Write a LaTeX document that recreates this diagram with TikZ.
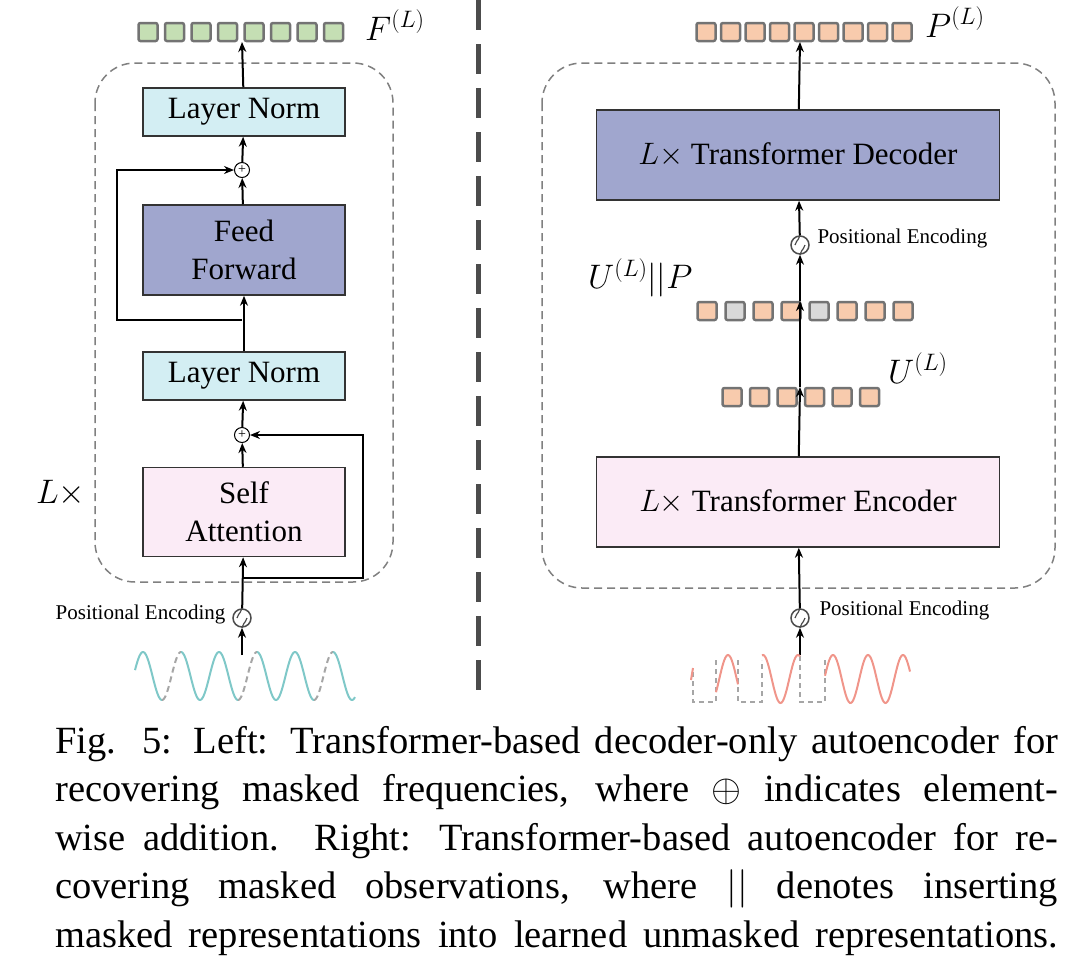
\documentclass[tikz,border=0pt]{standalone}
\usepackage{fix-cm}
\usepackage{fontspec}
\setmainfont{Liberation Serif}
\usetikzlibrary{arrows.meta,calc}
\definecolor{lncol}{HTML}{D3EEF3}
\definecolor{ffcol}{HTML}{A0A6CE}
\definecolor{sacol}{HTML}{FBEBF6}
\definecolor{grn}{HTML}{C5DFB4}
\definecolor{org}{HTML}{F8CBAD}
\definecolor{gry}{HTML}{D9D9D9}
\definecolor{teal}{HTML}{7FC8C8}
\definecolor{salm}{HTML}{F0958A}
\tikzset{
 blk/.style={draw=black!80,line width=1.5pt,minimum width=202pt,align=center,font=\fontsize{31}{36}\selectfont,inner sep=0pt},
 arr/.style={-{Stealth[length=10pt,width=8pt]},line width=2pt},
 tok/.style={draw=black!55,line width=2.5pt,rounded corners=2pt,minimum width=19pt,minimum height=18pt,inner sep=0pt},
 plus/.style={circle,draw,line width=1pt,minimum size=15pt,inner sep=0pt,font=\fontsize{14}{14}\selectfont},
 pe/.style={circle,draw=black!70,line width=1.5pt,minimum size=18pt,inner sep=0pt},
 pel/.style={font=\fontsize{21}{24}\selectfont},
 dbox/.style={draw=black!50,line width=1.5pt,dash pattern=on 8pt off 5pt,rounded corners=40pt},
 lbl/.style={font=\fontsize{34}{34}\selectfont,inner sep=0pt}
}
\newcommand{\pesym}[1]{\draw[black!70,line width=1.2pt] ($(#1)+(-5,0)$) .. controls ($(#1)+(-3,-6)$) and ($(#1)+(0,-6)$) .. (#1) .. controls ($(#1)+(0,6)$) and ($(#1)+(3,6)$) .. ($(#1)+(5,0)$);}
\begin{document}
\begin{tikzpicture}[x=1pt,y=-1pt]
\useasboundingbox (0,0) rectangle (1080,967);
% separator
\draw[black!70,line width=5pt,dash pattern=on 30pt off 14pt] (478,0) -- (478,700);
% ===== LEFT =====
\draw[dbox] (95,63) rectangle (393,582);
\foreach \i in {0,...,7} \node[tok,fill=grn] (g\i) at (148+\i*26.5,32) {};
\node[lbl,anchor=west] (F) at (365,25) {$F^{(L)}$};
\node[blk,fill=lncol,minimum height=48pt] (ln1) at (244,112) {Layer Norm};
\node[plus] (p1) at (242,170) {+};
\node[blk,fill=ffcol,minimum height=90pt] (ff) at (244,250) {Feed\\[2pt]Forward};
\node[blk,fill=lncol,minimum height=48pt] (ln2) at (244,376) {Layer Norm};
\node[plus] (p2) at (242,435) {+};
\node[blk,fill=sacol,minimum height=89pt] (sa) at (244,512) {Self\\[2pt]Attention};
\node[pe] (pe1) at (242,618) {};
\pesym{pe1}
\node[pel,anchor=east] at (229,614) {Positional Encoding};
\node[lbl,anchor=west] at (36,493) {$L\times$};
\coordinate (w1) at (242,655);
\coordinate (r1) at (242,320);
\coordinate (r2) at (242,578);
\draw[arr] (w1) -- (pe1);
\draw[arr] (pe1) -- (sa);
\draw[arr] (sa) -- (p2);
\draw[arr] (p2) -- (ln2);
\draw[arr] (ln2) -- (ff);
\draw[arr] (ff) -- (p1);
\draw[arr] (p1) -- (ln1);
\draw[arr] (ln1) -- (242,42);
\draw[arr] (r1) -- (117,320) -- (117,170) -- (p1);
\draw[arr] (r2) -- (363,578) -- (363,435) -- (p2);
% left wave
\def\wv(#1){676-24*cos(((#1)-143)*9.4737)}
\draw[teal,line width=2pt] plot[domain=135:162,samples=30] (\x,{\wv(\x)});
\draw[gray!70,line width=2pt,dash pattern=on 6pt off 4pt] plot[domain=162:181,samples=20] (\x,{\wv(\x)});
\draw[teal,line width=2pt] plot[domain=181:238,samples=60] (\x,{\wv(\x)});
\draw[gray!70,line width=2pt,dash pattern=on 6pt off 4pt] plot[domain=238:257,samples=20] (\x,{\wv(\x)});
\draw[teal,line width=2pt] plot[domain=257:314,samples=60] (\x,{\wv(\x)});
\draw[gray!70,line width=2pt,dash pattern=on 6pt off 4pt] plot[domain=314:333,samples=20] (\x,{\wv(\x)});
\draw[teal,line width=2pt] plot[domain=333:355,samples=25] (\x,{\wv(\x)});
% ===== RIGHT =====
\draw[dbox] (542,63) rectangle (1055,588);
\foreach \i in {0,...,8} \node[tok,fill=org] (o\i) at (706+\i*24.5,32) {};
\node[lbl,anchor=west] (P) at (925,22) {$P^{(L)}$};
\node[blk,fill=ffcol,minimum width=403pt,minimum height=90pt] (dec) at (798,155) {$L\times$ Transformer Decoder};
\node[pe] (pe2) at (800,245) {};
\pesym{pe2}
\node[pel,anchor=west] at (814,238) {Positional Encoding};
\foreach \i/\c in {0/org,1/gry,2/org,3/org,4/gry,5/org,6/org,7/org} \node[tok,fill=\c] (m\i) at (707+\i*28,311) {};
\node[lbl,anchor=west] at (588,278) {$U^{(L)}||P$};
\foreach \i in {0,...,5} \node[tok,fill=org] (u\i) at (732+\i*27.5,397) {};
\node[lbl,anchor=west] at (888,368) {$U^{(L)}$};
\node[blk,fill=sacol,minimum width=403pt,minimum height=90pt] (enc) at (798,502) {$L\times$ Transformer Encoder};
\node[pe] (pe3) at (800,618) {};
\pesym{pe3}
\node[pel,anchor=west] at (816,610) {Positional Encoding};
\coordinate (w2) at (800,655);
\coordinate (ut) at (800,387);
\coordinate (mt) at (800,301);
\draw[arr] (w2) -- (pe3);
\draw[arr] (pe3) -- (enc);
\draw[arr] (enc) -- (ut);
\draw[arr] (ut) -- (mt);
\draw[arr] (mt) -- (pe2);
\draw[arr] (pe2) -- (dec);
\draw[arr] (dec) -- (800,42);
% right wave
\def\wr(#1){679-24*cos(((#1)-728)*10.2857)}
\draw[gray!70,line width=2pt,dash pattern=on 5pt off 4pt] (693,672) -- (693,702) -- (716,702) -- (716,660);
\draw[gray!70,line width=2pt,dash pattern=on 5pt off 4pt] (738,660) -- (738,702) -- (762,702) -- (762,660);
\draw[gray!70,line width=2pt,dash pattern=on 5pt off 4pt] (800,656) -- (800,702) -- (825,702) -- (825,660);
\draw[salm,line width=2pt] (691,680) -- (693,668);
\draw[salm,line width=2pt] plot[domain=716:738,samples=25] (\x,{\wr(\x)});
\draw[salm,line width=2pt] plot[domain=762:800,samples=40] (\x,{\wr(\x)});
\draw[salm,line width=2pt] plot[domain=825:910,samples=80] (\x,{\wr(\x)});
% caption
\node[anchor=north west,inner sep=0pt,align=left,font=\fontsize{38.5}{48.5}\selectfont] (cap) at (55,726) {%
\makebox[1003pt][s]{Fig. 5: Left: Transformer-based decoder-only autoencoder for}\\
\makebox[1003pt][s]{recovering masked frequencies, where $\oplus$ indicates element-}\\
\makebox[1003pt][s]{wise addition. Right: Transformer-based autoencoder for re-}\\
\makebox[1003pt][s]{covering masked observations, where $||$ denotes inserting}\\
\makebox[1003pt][s]{masked representations into learned unmasked representations.}};
\end{tikzpicture}
\end{document}
